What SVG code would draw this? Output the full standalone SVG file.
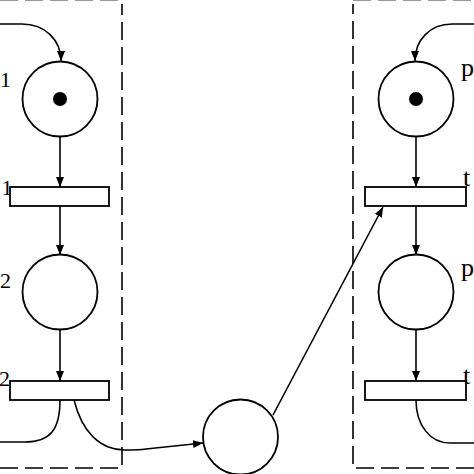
<svg xmlns="http://www.w3.org/2000/svg" width="474" height="474" viewBox="0 0 474 474">
<style>
.box{fill:none;stroke:#000;stroke-width:1.6;stroke-dasharray:18 7}
.top{fill:none;stroke:#999;stroke-width:2;stroke-dasharray:18 7}
.pl{fill:#fff;stroke:#000;stroke-width:1.8}
.tr{fill:#fff;stroke:#000;stroke-width:1.8}
.tok{fill:#000}
.arc{fill:none;stroke:#000;stroke-width:1.6}
.lab{font-family:"Liberation Serif",serif;font-size:22px;fill:#000}
.rl{font-size:26px}
</style>
<defs>
<marker id="ah" viewBox="0 0 10 8" refX="10" refY="4" markerWidth="10" markerHeight="8" markerUnits="userSpaceOnUse" orient="auto">
<path d="M0 0 L10 4 L0 8 Z" fill="#000"/>
</marker>
</defs>
<rect width="474" height="474" fill="#fff"/>
<g id="boxes">
<path class="box" d="M0 468 H122 V4"/>
<path class="box" d="M474 468 H353 V4"/>
<path class="top" d="M0 0 H122 M353 0 H474"/>
</g>
<g id="connectors">
<path class="arc" d="M0 24 L22 24 C45 24 61 40 61 61" marker-end="url(#ah)"/>
<path class="arc" d="M60 136 L60 187" marker-end="url(#ah)"/>
<path class="arc" d="M60 206 L60 255" marker-end="url(#ah)"/>
<path class="arc" d="M60 330 L60 381" marker-end="url(#ah)"/>
<path class="arc" d="M60 400 C60 430 50 442 25 442 L0 442"/>
<path class="arc" d="M74 400 C82 432 100 450 125 450 C135 450 140 450 146 449 L203 443" marker-end="url(#ah)"/>
<path class="arc" d="M474 24 L452 24 C430 24 415 40 415 61" marker-end="url(#ah)"/>
<path class="arc" d="M416 136 L416 187" marker-end="url(#ah)"/>
<path class="arc" d="M416 206 L416 255" marker-end="url(#ah)"/>
<path class="arc" d="M416 330 L416 381" marker-end="url(#ah)"/>
<path class="arc" d="M416 400 C416 425 430 443 450 443 L474 443"/>
<path class="arc" d="M273 415 L383 207" marker-end="url(#ah)"/>
</g>
<g id="p1"><circle class="pl" cx="60" cy="99" r="37.5"/><circle class="tok" cx="60" cy="99" r="7"/><text class="lab" x="11" y="87" text-anchor="end">1</text></g>
<g id="t1"><rect class="tr" x="10" y="187" width="99" height="19"/><text class="lab" x="1.5" y="195" font-size="11">1</text></g>
<g id="p2"><circle class="pl" cx="60" cy="292" r="37.5"/><text class="lab" x="11" y="288" text-anchor="end">2</text></g>
<g id="t2"><rect class="tr" x="10" y="381" width="99" height="19"/><text class="lab" x="10" y="386" text-anchor="end" font-size="18">2</text></g>
<g id="p3"><circle class="pl" cx="240.5" cy="437" r="37.5"/></g>
<g id="p4"><circle class="pl" cx="416" cy="99" r="37.5"/><circle class="tok" cx="416" cy="99" r="7"/><text class="lab rl" x="461" y="76">p</text></g>
<g id="t3"><rect class="tr" x="365" y="187" width="101" height="19"/><text class="lab rl" x="463" y="186">t</text></g>
<g id="p5"><circle class="pl" cx="416" cy="292" r="37.5"/><text class="lab rl" x="461" y="276">p</text></g>
<g id="t4"><rect class="tr" x="365" y="381" width="101" height="19"/><text class="lab rl" x="463" y="384">t</text></g>
</svg>
